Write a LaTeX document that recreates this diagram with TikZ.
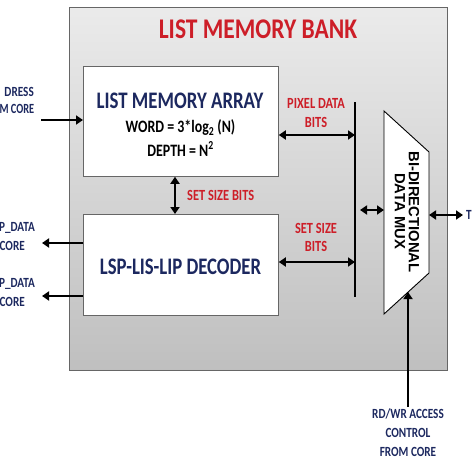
\documentclass[tikz,border=0pt]{standalone}
\usepackage{fontspec}
\usepackage{graphicx}
\setmainfont{Carlito}
\newfontfamily\muxfont{Liberation Sans}
\usetikzlibrary{arrows.meta,calc}
\definecolor{navy}{RGB}{28,40,95}
\definecolor{tred}{RGB}{205,30,40}
\newcommand{\sqz}[2]{\scalebox{#1}[1]{#2}}
\tikzset{
  panel/.style={draw=black!60, line width=0.8pt, anchor=north west, inner sep=0pt},
  bank/.style={panel, top color=black!8, bottom color=black!25},
  blk/.style={panel, fill=white},
  bigarrow/.style={line width=2.8pt, -{Triangle[length=7pt,width=9pt]}},
  dblarrow/.style={line width=2.8pt, {Triangle[length=7pt,width=9pt]}-{Triangle[length=7pt,width=9pt]}},
  bluelbl/.style={text=navy, font=\bfseries\fontsize{14}{15}\selectfont, inner sep=0pt},
  redlbl/.style={text=tred, font=\bfseries\fontsize{15.5}{16}\selectfont, inner sep=0pt},
  muxlbl/.style={rotate=-90, font=\muxfont\bfseries\fontsize{14.8}{15}\selectfont, inner sep=0pt},
}
\begin{document}
\begin{tikzpicture}[x=1pt,y=-1pt]
\useasboundingbox (0,0) rectangle (474,474);
\node[bank, minimum width=378pt, minimum height=363pt] (bankbox) at (69,7) {};
\node[text=tred, font=\bfseries\fontsize{28.5}{30}\selectfont, inner sep=0pt] (title) at (258,29) {\sqz{0.825}{LIST MEMORY BANK}};
\node[blk, minimum width=195pt, minimum height=110pt] (mem) at (83,66) {};
\node[blk, minimum width=195pt, minimum height=101pt] (dec) at (83,214) {};
\node[text=navy, font=\bfseries\fontsize{23.7}{25}\selectfont, inner sep=0pt] (memt) at (180,101) {\sqz{0.795}{LIST MEMORY ARRAY}};
\node[font=\bfseries\fontsize{17.4}{18}\selectfont, inner sep=0pt] (word) at (180.5,128) {\sqz{0.8}{WORD = 3*log\textsubscript{2} (N)}};
\node[font=\bfseries\fontsize{17.4}{18}\selectfont, inner sep=0pt] (depth) at (180.5,149) {\sqz{0.8}{DEPTH = N\textsuperscript{2}}};
\node[text=navy, font=\bfseries\fontsize{23.7}{25}\selectfont, inner sep=0pt] (dect) at (180.5,267) {\sqz{0.79}{LSP-LIS-LIP DECODER}};
% bus
\coordinate (bustop) at (355,102);
\coordinate (busbot) at (355,297);
\draw[line width=1.3pt] (bustop) -- (busbot);
% mux
\coordinate (m1) at (384,111);
\coordinate (m2) at (429,152);
\coordinate (m3) at (429,273);
\coordinate (m4) at (384,314);
\draw[fill=white, line width=0.9pt] (m1) -- (m2) -- (m3) -- (m4) -- cycle;
\node[muxlbl] (muxa) at (414,212) {BI-DIRECTIONAL};
\node[muxlbl] (muxb) at (400,211) {DATA MUX};
% connectors
\coordinate (pixL) at (mem.east |- 0,135);
\coordinate (pixR) at (bustop |- 0,135);
\draw[dblarrow] (pixL) -- (pixR);
\node[redlbl] (pix1) at (316,103.5) {\sqz{0.8}{PIXEL DATA}};
\node[redlbl] (pix2) at (316,122) {\sqz{0.8}{BITS}};
\coordinate (ssL) at (dec.east |- 0,262);
\coordinate (ssR) at (bustop |- 0,262);
\draw[dblarrow] (ssL) -- (ssR);
\node[redlbl] (ss1) at (316,228) {\sqz{0.8}{SET SIZE}};
\node[redlbl] (ss2) at (316,246) {\sqz{0.8}{BITS}};
\coordinate (memb) at (mem.south -| 175,0);
\coordinate (dect2) at (dec.north -| 175,0);
\draw[dblarrow] (memb) -- (dect2);
\node[redlbl, anchor=west] (ss3) at (187,195) {\sqz{0.8}{SET SIZE BITS}};
\coordinate (busmid) at (bustop |- 0,210);
\coordinate (muxin) at (m1 |- 0,210);
\draw[dblarrow] ($(busmid)+(5,0)$) -- (muxin);
\coordinate (muxout) at (m2 |- 0,215);
\coordinate (outR) at (463,215);
\draw[dblarrow] (muxout) -- (outR);
\node[bluelbl, anchor=west] (tlbl) at (466,215) {\sqz{0.8}{T}};
% control
\coordinate (ctrlS) at (408,407);
\coordinate (ctrlE) at (408,292);
\draw[bigarrow] (ctrlS) -- (ctrlE);
\node[bluelbl] (ctrl1) at (408,414) {\sqz{0.8}{RD/WR ACCESS}};
\node[bluelbl] (ctrl2) at (408,433) {\sqz{0.8}{CONTROL}};
\node[bluelbl] (ctrl3) at (408,452) {\sqz{0.8}{FROM CORE}};
% left
\coordinate (addrS) at (41,120);
\draw[bigarrow] (addrS) -- (mem.west |- addrS);
\node[bluelbl, anchor=east] (a1) at (34,92) {\sqz{0.8}{DRESS}};
\node[bluelbl, anchor=east] (a2) at (34.5,109) {\sqz{0.74}{M CORE}};
\coordinate (o1) at (42,243);
\coordinate (o2) at (42,296);
\draw[bigarrow] (dec.west |- o1) -- (o1);
\draw[bigarrow] (dec.west |- o2) -- (o2);
\node[bluelbl, anchor=east] (b1) at (35,228) {\sqz{0.8}{P\_DATA}};
\node[bluelbl, anchor=east] (b2) at (25,246) {\sqz{0.8}{CORE}};
\node[bluelbl, anchor=east] (c1) at (35,284) {\sqz{0.8}{P\_DATA}};
\node[bluelbl, anchor=east] (c2) at (25,302) {\sqz{0.8}{CORE}};
\end{tikzpicture}
\end{document}
